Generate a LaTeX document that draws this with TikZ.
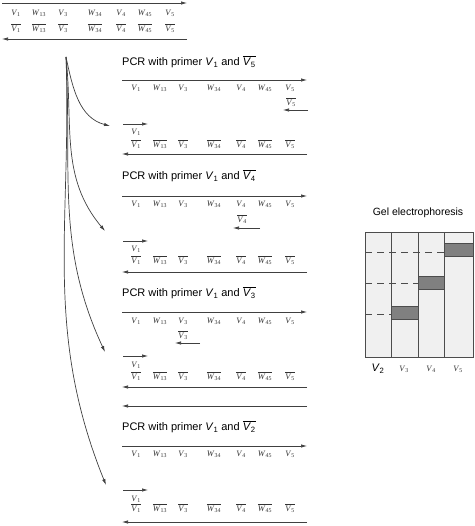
\documentclass[tikz,border=0pt]{standalone}
\usepackage{fontspec}
\setmainfont{Liberation Serif}
\setsansfont{Liberation Sans}
\usetikzlibrary{arrows.meta, positioning}

\newcommand{\seg}[2]{\textit{#1}\textsubscript{#2}}
\newcommand{\segbar}[2]{$\overline{\hbox{\seg{#1}{#2}}}$}
\def\segs{15/V/1,39/W/13,62/V/3,93/W/34,120/V/4,144/W/45,169/V/5}

\begin{document}
\begin{tikzpicture}[x=1pt, y=1pt,
  strand/.style={draw=black!75, line width=0.7pt, -{Latex[length=6pt,width=3.4pt]}},
  lbl/.style={font=\fontsize{8.4}{9}\selectfont, inner sep=0pt, text=black!80},
  ttl/.style={font=\sffamily\fontsize{11}{12}\selectfont, anchor=west, inner sep=0pt},
  lane/.style={draw=black!70, fill=black!6, line width=0.6pt},
  band/.style={draw=black!70, fill=black!50, line width=0.6pt},
  marker/.style={draw=black!70, line width=0.6pt, dash pattern=on 7pt off 5pt}]

  \useasboundingbox (0,0) rectangle (474,-526);

  % original double strand
  \draw[strand] (2,-3) -- (187,-3);
  \draw[strand] (187,-39) -- (2,-39);
  \foreach \x/\n/\s [count=\i] in {16/V/1,39/W/13,63/V/3,95/W/34,121/V/4,145/W/45,170/V/5} {
    \node[lbl] (t\i) at (\x,-13) {\seg{\n}{\s}};
    \node[lbl] (tb\i) at (\x,-28) {\segbar{\n}{\s}};
  }

  % segment rows of the four PCR runs
  \foreach \r/\y in {a/88, b/204, c/321, d/454}
    \foreach \x/\n/\s [count=\i] in \segs
      \node[lbl] (\r\i) at (121+\x,-\y) {\seg{\n}{\s}};
  \foreach \r/\y in {a/144, b/260, c/376, d/508}
    \foreach \x/\n/\s [count=\i] in \segs
      \node[lbl] (\r b\i) at (121+\x,-\y) {\segbar{\n}{\s}};

  % PCR 1
  \node[ttl] (pcr1) at (122,-62) {PCR with primer \seg{V}{1} and~\segbar{V}{5}};
  \draw[strand] (122,-80) -- (307,-80);
  \node[lbl] (p5) at (291,-102) {\segbar{V}{5}};
  \draw[strand] (308,-110) -- (283,-110);
  \draw[strand] (123,-124) -- (148,-124);
  \node[lbl] (fa) at (136,-132) {\seg{V}{1}};
  \draw[strand] (307,-154) -- (122,-154);

  % PCR 2
  \node[ttl] (pcr2) at (122,-176) {PCR with primer \seg{V}{1} and~\segbar{V}{4}};
  \draw[strand] (122,-196) -- (307,-196);
  \node[lbl] (p4) at (242,-219) {\segbar{V}{4}};
  \draw[strand] (260,-228) -- (233,-228);
  \draw[strand] (123,-241) -- (148,-241);
  \node[lbl] (fb) at (136,-249) {\seg{V}{1}};
  \draw[strand] (307,-272) -- (122,-272);

  % PCR 3
  \node[ttl] (pcr3) at (122,-293) {PCR with primer \seg{V}{1} and~\segbar{V}{3}};
  \draw[strand] (122,-312) -- (307,-312);
  \node[lbl] (p3) at (183,-335) {\segbar{V}{3}};
  \draw[strand] (200,-343) -- (175,-343);
  \draw[strand] (123,-356) -- (148,-356);
  \node[lbl] (fc) at (136,-365) {\seg{V}{1}};
  \draw[strand] (307,-387) -- (122,-387);
  \draw[strand] (307,-406) -- (122,-406);

  % PCR 4
  \node[ttl] (pcr4) at (122,-427) {PCR with primer \seg{V}{1} and~\segbar{V}{2}};
  \draw[strand] (122,-446) -- (307,-446);
  \draw[strand] (123,-490) -- (148,-490);
  \node[lbl] (fd) at (136,-499) {\seg{V}{1}};
  \draw[strand] (307,-522) -- (122,-522);

  % split arrows
  \coordinate (src) at (66,-57);
  \coordinate (e1) at (110,-126);
  \coordinate (e2) at (105,-231);
  \coordinate (e3) at (105,-352);
  \coordinate (e4) at (106,-485);
  \draw[strand] (src) to[out=-78, in=165] (e1);
  \draw[strand] (src) to[out=-84, in=130] (e2);
  \draw[strand] (src) to[out=-87, in=115] (e3);
  \draw[strand] (src) to[out=-88, in=112] (e4);

  % gel
  \node[font=\sffamily\fontsize{10.5}{12}\selectfont] (gel) at (418,-213) {Gel electrophoresis};
  \draw[lane] (365,-232) rectangle (473,-357);
  \foreach \x in {391,418,444}
    \draw[draw=black!70, line width=0.6pt] (\x,-232) -- (\x,-357);
  \draw[marker] (365,-252) -- (444,-252);
  \draw[marker] (365,-283) -- (418,-283);
  \draw[marker] (365,-314) -- (391,-314);
  \draw[band] (391,-306) rectangle (418,-319);
  \draw[band] (418,-276) rectangle (444,-289);
  \draw[band] (444,-243) rectangle (473,-256);
  \node[font=\sffamily\fontsize{11}{12}\selectfont] (l2) at (378,-369) {\seg{V}{2}};
  \node[lbl] (l3) at (404,-369) {\seg{V}{3}};
  \node[lbl] (l4) at (431,-369) {\seg{V}{4}};
  \node[lbl] (l5) at (458,-369) {\seg{V}{5}};
\end{tikzpicture}
\end{document}
